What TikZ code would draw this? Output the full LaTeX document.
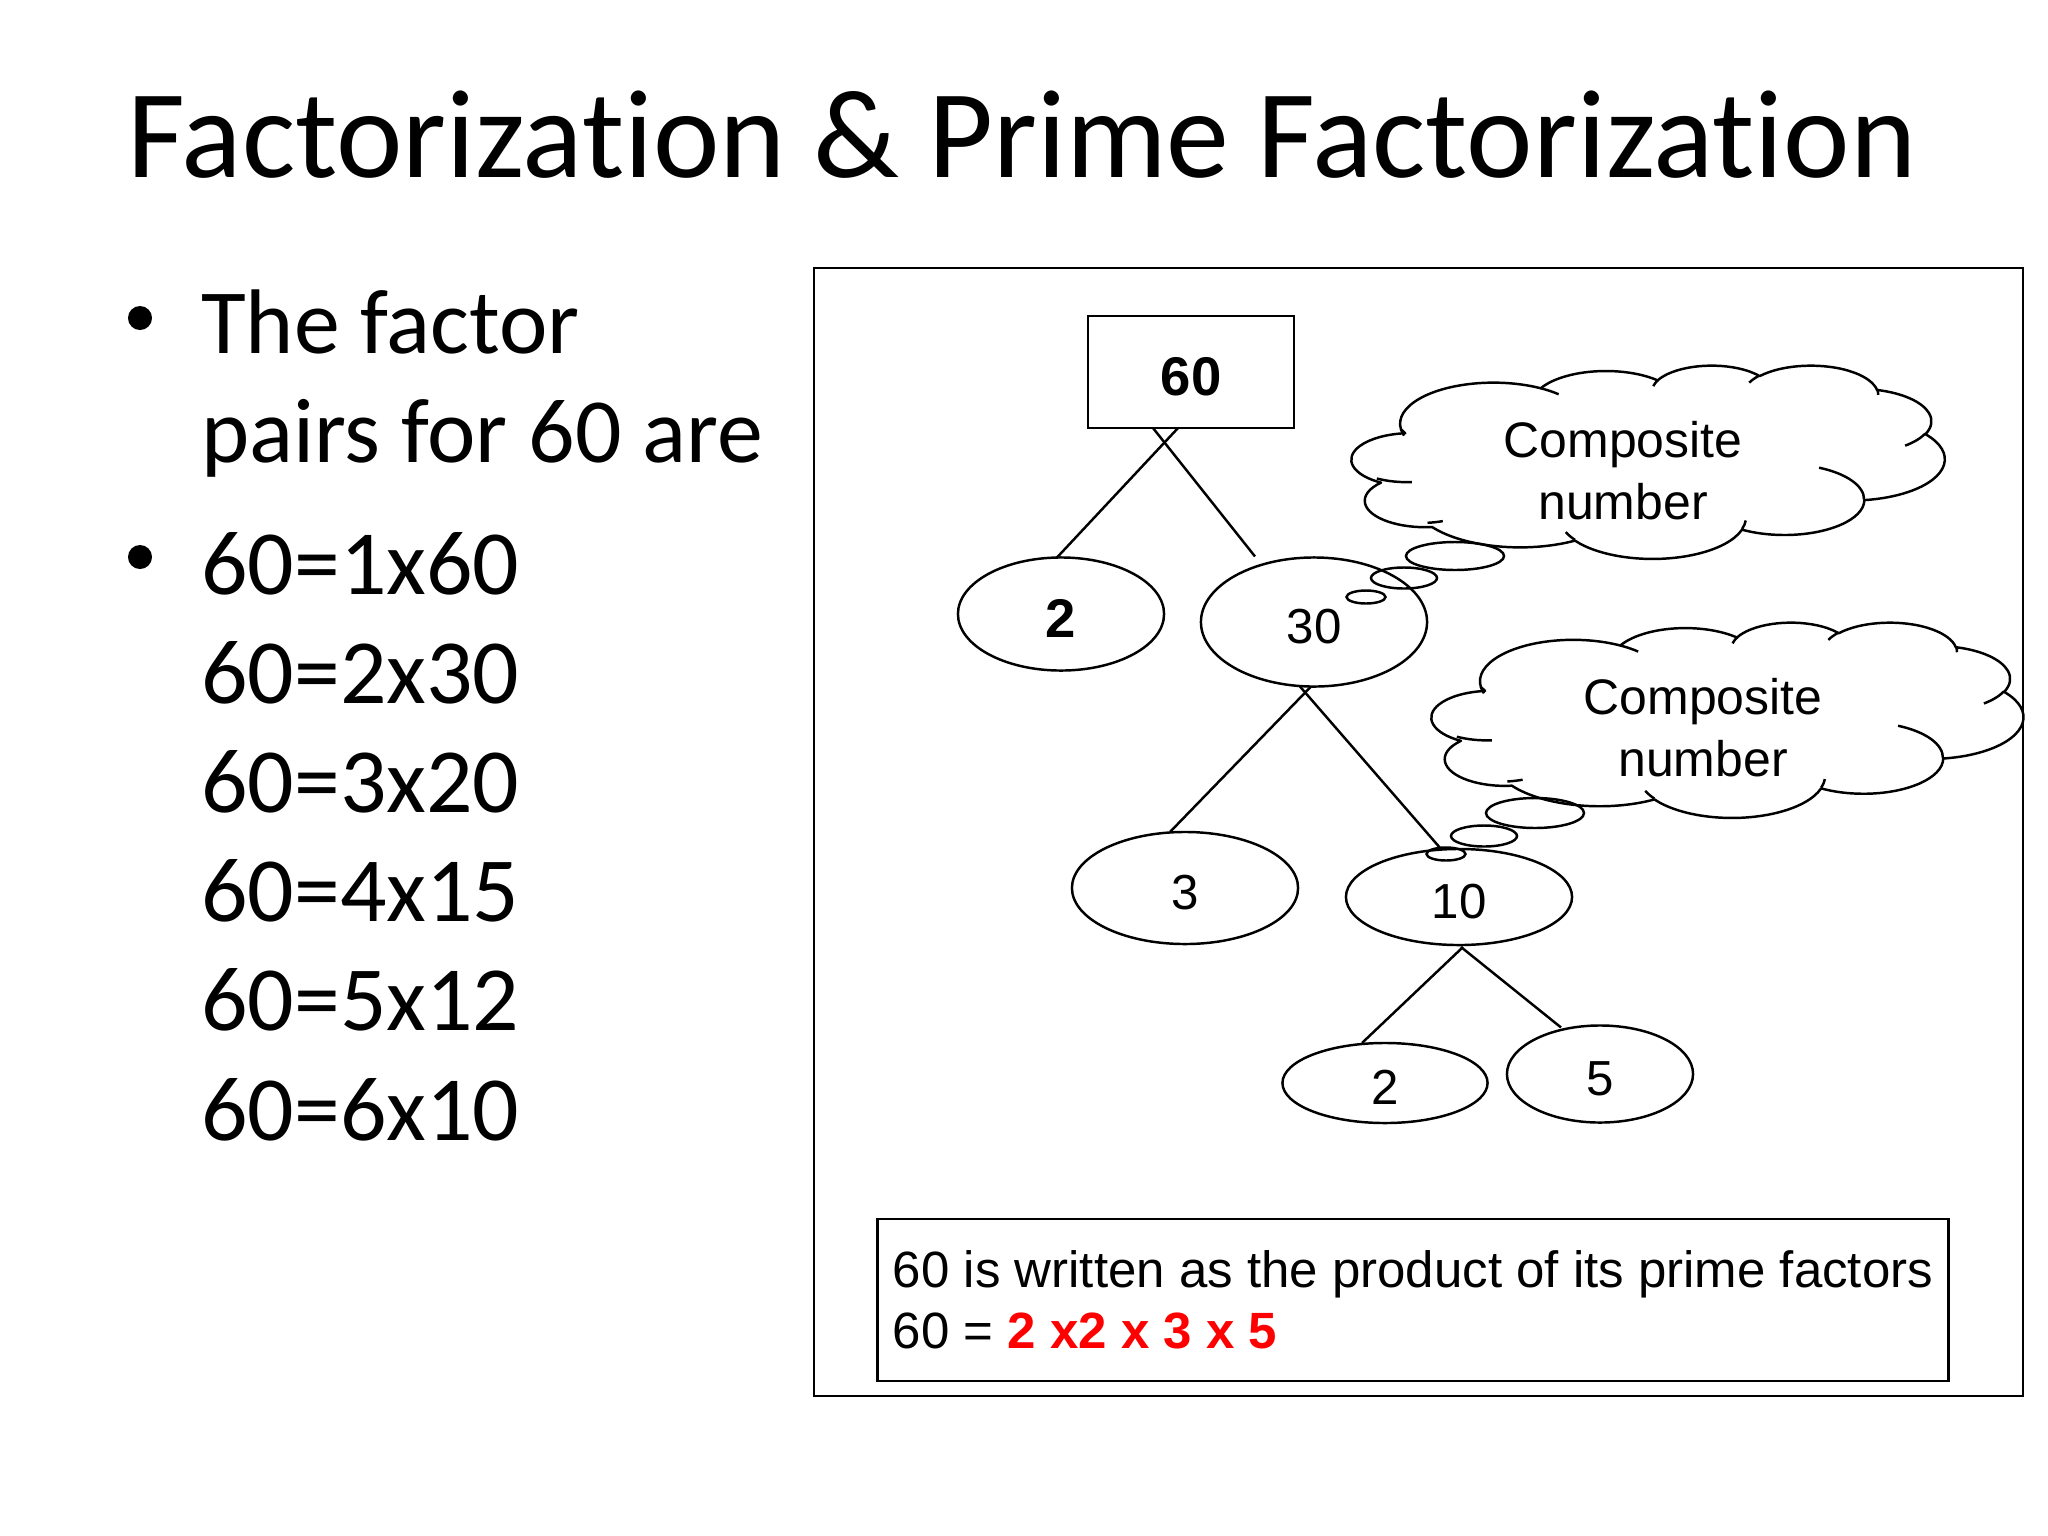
\documentclass[tikz,border=0pt]{standalone}
\usepackage{fontspec}
\setmainfont{Carlito}[Ligatures=CommonOff]
\newfontfamily\arialfont{Liberation Sans}
\usetikzlibrary{shapes.geometric,calc}

% one puff of the cloud: x radius, y radius, start angle, sweep (angles seen on the ellipse)
\tikzset{
  puff/.style n args={4}{x radius=#1, y radius=#2,
    start angle={atan2((#1)*sin(#3),(#2)*cos(#3))},
    delta angle={(#4)+mod(atan2((#1)*sin((#3)+(#4)),(#2)*cos((#3)+(#4)))-atan2((#1)*sin(#3),(#2)*cos(#3))-(#4)+540,360)-180}},
  cloudline/.style={line width=0.7pt, line join=round}
}

% cloud drawn in a 432 x 432 box
\newcommand{\cloudshape}{%
  \draw[cloudline] (39.00,143.70)
    foreach \pw/\ph/\pa/\ps in {67.53/91.90/-190.4875/123.7805, 53.33/72.67/-144.1024/89.9452,
      43.65/59.45/-145.8079/99.7230, 48.57/65.95/-130.9861/117.2417, 53.33/72.73/-78.7089/109.0269,
      67.75/92.20/-46.2673/130.2690, 57.85/78.67/0.6250/114.0333, 67.52/92.15/22.4516/115.1726,
      77.20/105.43/66.2426/70.4481, 43.60/59.18/-274.9421/146.7356, 43.45/59.45/-246.8285/152.5189}
    { arc[puff={\pw}{\ph}{\pa}{\ps}] } -- cycle;
  \draw[cloudline]
    foreach \px/\py/\pw/\ph/\pa/\ps in {46.93/261.77/43.45/59.45/86.7420/26.4295,
      69.28/348.99/43.60/59.18/73.6105/11.4475, 164.78/390.90/67.52/92.15/137.6242/14.0811,
      288.27/347.51/67.52/92.15/6.4533/15.9984, 341.29/229.54/57.85/78.67/-70.2924/70.9174,
      417.98/153.54/53.33/72.73/30.3180/27.7515, 383.24/54.26/48.57/65.95/-13.7443/14.8589,
      290.78/39.52/48.57/65.95/-149.1815/18.1954, 221.41/47.20/43.65/59.45/-163.4943/17.6864,
      140.00/51.92/67.53/91.90/-66.7070/12.3194, 41.27/157.89/67.53/91.90/157.6544/11.8582}
    { (\px,\py) arc[puff={\pw}{\ph}{\pa}{\ps}] };
}

\begin{document}
\begin{tikzpicture}[x=0.01cm, y=-0.01cm, line width=0.7pt,
    slidetext/.style={anchor=base west, inner sep=0pt, font=\fontsize{26.1}{31}\selectfont},
    dot/.style={circle, fill, inner sep=0pt, minimum size=0.24cm},
    numbox/.style={draw, rectangle, inner sep=0pt, outer sep=0pt},
    numoval/.style={draw, ellipse, inner sep=0pt, outer sep=0pt},
    numfont/.style={font=\arialfont\fontsize{14}{16}\selectfont, text height=0.43cm, text depth=0pt},
    boldfont/.style={font=\arialfont\bfseries\fontsize{15.5}{18}\selectfont, text height=0.47cm, text depth=0pt},
    cloudtext/.style={align=center, inner sep=0pt, font=\arialfont\fontsize{14.2}{17.6}\selectfont}]
  \useasboundingbox (0,0) rectangle (2048,1536);

  % title and the list on the left
  \node[anchor=base west, inner sep=0pt, font=\fontsize{35.8}{40}\selectfont] (title) at (126,177) {Factorization \& Prime Factorization};
  \node[dot] (b1) at (140,318) {};
  \node[dot] (b2) at (140,557) {};
  \node[slidetext] (q1) at (200,353) {The factor};
  \node[slidetext] (q2) at (200,462) {pairs for 60 are};
  \foreach \eq [count=\i] in {60=1x60, 60=2x30, 60=3x20, 60=4x15, 60=5x12, 60=6x10}
    \node[slidetext] (p\i) at (200,{594+(\i-1)*109.2}) {\eq};

  % factor tree
  \draw (814,268) rectangle (2023,1396);
  \node[numbox, boldfont, minimum width=2.06cm, minimum height=1.12cm] (n60) at (1191,372) {60};
  \node[numoval, boldfont, minimum width=2.06cm, minimum height=1.13cm] (n2) at (1061,614) {2};
  \node[numoval, numfont, minimum width=2.26cm, minimum height=1.29cm] (n30) at (1314,622) {30};
  \node[numoval, numfont, minimum width=2.26cm, minimum height=1.12cm] (n3) at (1185,888) {3};
  \node[numoval, numfont, minimum width=2.26cm, minimum height=0.96cm] (n10) at (1459,897) {10};
  \node[numoval, numfont, minimum width=2.05cm, minimum height=0.80cm] (n2b) at (1385,1083) {2};
  \node[numoval, numfont, minimum width=1.86cm, minimum height=0.97cm] (n5) at (1600,1074) {5};

  \draw ($(n60.south)+(-13,0)$) -- ($(n2.north)+(-4,0)$);
  \draw ($(n60.south)+(-38,0)$) -- ($(n30.north)+(-59,-1)$);
  \draw ($(n30.south)+(-3,0)$) -- ($(n3.north)+(-15,0)$);
  \draw ($(n30.south)+(-14,0)$) -- ($(n10.north)+(-18,0)$);
  \draw ($(n10.south)+(4,2)$) -- ($(n2b.north)+(-23,0)$);
  \draw ($(n10.south)+(2,2)$) -- ($(n5.north)+(-39,2)$);

  % thought clouds
  \begin{scope}[shift={(1347,365)}, x=0.0138194cm, y=-0.0044676cm]
    \cloudshape
  \end{scope}
  \begin{scope}[shift={(1427,622)}, x=0.0137963cm, y=-0.0045139cm]
    \cloudshape
  \end{scope}
  \draw (1455,556) ellipse [x radius=49, y radius=14];
  \draw (1404,578) ellipse [x radius=33, y radius=10.5];
  \draw (1366,597) ellipse [x radius=19.5, y radius=6.5];
  \draw (1535,813) ellipse [x radius=49, y radius=15];
  \draw (1484,836) ellipse [x radius=33, y radius=10.5];
  \draw (1446,854) ellipse [x radius=19.5, y radius=6.5];
  \node[cloudtext] (c1) at (1623,471) {Composite\\number};
  \node[cloudtext] (c2) at (1703,728) {Composite\\number};

  % result
  \node[draw, minimum width=10.70cm, minimum height=1.62cm, align=left, inner sep=0pt,
    font=\arialfont\fontsize{14.5}{17.35}\selectfont] (res) at (1413,1300)
    {60 is written as the product of its prime factors\\60 = \textcolor{red}{\bfseries 2 x2 x 3 x 5}};
\end{tikzpicture}
\end{document}
